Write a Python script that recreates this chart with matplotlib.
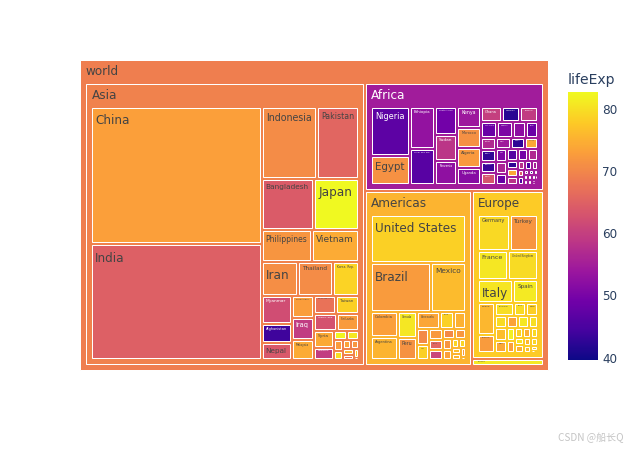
import matplotlib
matplotlib.use('Agg')
import matplotlib.pyplot as plt
from matplotlib.colors import LinearSegmentedColormap, Normalize
from matplotlib.patches import Rectangle
from matplotlib.cm import ScalarMappable

# gapminder 2007: country, population, life expectancy
asia_names = ['Afghanistan', 'Bahrain', 'Bangladesh', 'Cambodia', 'China', 'Hong Kong, China', 'India',
              'Indonesia', 'Iran', 'Iraq', 'Israel', 'Japan', 'Jordan', 'Korea, Dem. Rep.', 'Korea, Rep.',
              'Kuwait', 'Lebanon', 'Malaysia', 'Mongolia', 'Myanmar', 'Nepal', 'Oman', 'Pakistan',
              'Philippines', 'Saudi Arabia', 'Singapore', 'Sri Lanka', 'Syria', 'Taiwan', 'Thailand',
              'Vietnam', 'West Bank and Gaza', 'Yemen, Rep.']
asia_pop = [31889923, 708573, 150448339, 14131858, 1318683096, 6980412, 1110396331, 223547000, 69453570,
            27499638, 6426679, 127467972, 6053193, 23301725, 49044790, 2505559, 3921278, 24821286, 2874127,
            47761980, 28901790, 3204897, 169270617, 91077287, 27601038, 4553009, 20378239, 19314747,
            23174294, 65068149, 85262356, 4018332, 22211743]
asia_life = [43.828, 75.635, 64.062, 59.723, 72.961, 82.208, 64.698, 70.650, 70.964, 59.545, 80.745, 82.603,
             72.535, 67.297, 78.623, 77.588, 71.993, 74.241, 66.803, 62.069, 63.785, 75.640, 65.483, 71.688,
             72.777, 79.972, 72.396, 74.143, 78.400, 70.616, 74.249, 73.422, 62.698]

africa_names = ['Algeria', 'Angola', 'Benin', 'Botswana', 'Burkina Faso', 'Burundi', 'Cameroon',
                'Central African Republic', 'Chad', 'Comoros', 'Congo, Dem. Rep.', 'Congo, Rep.',
                "Cote d'Ivoire", 'Djibouti', 'Egypt', 'Equatorial Guinea', 'Eritrea', 'Ethiopia', 'Gabon',
                'Gambia', 'Ghana', 'Guinea', 'Guinea-Bissau', 'Kenya', 'Lesotho', 'Liberia', 'Libya',
                'Madagascar', 'Malawi', 'Mali', 'Mauritania', 'Mauritius', 'Morocco', 'Mozambique', 'Namibia',
                'Niger', 'Nigeria', 'Reunion', 'Rwanda', 'Sao Tome and Principe', 'Senegal', 'Sierra Leone',
                'Somalia', 'South Africa', 'Sudan', 'Swaziland', 'Tanzania', 'Togo', 'Tunisia', 'Uganda',
                'Zambia', 'Zimbabwe']
africa_pop = [33333216, 12420476, 8078314, 1639131, 14326203, 8390505, 17696293, 4369038, 10238807, 710960,
              64606759, 3800610, 18013409, 496374, 80264543, 551201, 4906585, 76511887, 1454867, 1688359,
              22873338, 9947814, 1472041, 35610177, 2012649, 3193942, 6036914, 19167654, 13327079, 12031795,
              3270065, 1250882, 33757175, 19951656, 2055080, 12894865, 135031164, 798094, 8860588, 199579,
              12267493, 6144562, 9118773, 43997828, 42292929, 1133066, 38139640, 5701579, 10276158, 29170398,
              11746035, 12311143]
africa_life = [72.301, 42.731, 56.728, 50.728, 52.295, 49.580, 50.430, 44.741, 50.651, 65.152, 46.462, 55.322,
               48.328, 54.791, 71.338, 51.579, 58.040, 52.947, 56.735, 59.448, 60.022, 56.007, 46.388, 54.110,
               42.592, 45.678, 73.952, 59.443, 48.303, 54.467, 64.164, 72.801, 71.164, 42.082, 52.906, 56.867,
               46.859, 76.442, 46.242, 65.528, 63.062, 42.568, 48.159, 49.339, 58.556, 39.613, 52.517, 58.420,
               73.923, 51.542, 42.384, 43.487]

americas_names = ['Argentina', 'Bolivia', 'Brazil', 'Canada', 'Chile', 'Colombia', 'Costa Rica', 'Cuba',
                  'Dominican Republic', 'Ecuador', 'El Salvador', 'Guatemala', 'Haiti', 'Honduras', 'Jamaica',
                  'Mexico', 'Nicaragua', 'Panama', 'Paraguay', 'Peru', 'Puerto Rico', 'Trinidad and Tobago',
                  'United States', 'Uruguay', 'Venezuela']
americas_pop = [40301927, 9119152, 190010647, 33390141, 16284741, 44227550, 4133884, 11416987, 9319622,
                13755680, 6939688, 12572928, 8502814, 7483763, 2780132, 108700891, 5675356, 3242173, 6667147,
                28674757, 3942491, 1056608, 301139947, 3447496, 26084662]
americas_life = [75.320, 65.554, 72.390, 80.653, 78.553, 72.889, 78.782, 78.273, 72.235, 74.994, 71.878,
                 70.259, 60.916, 70.198, 72.567, 76.195, 72.899, 75.537, 71.752, 71.421, 78.746, 69.819,
                 78.242, 76.384, 73.747]

europe_names = ['Albania', 'Austria', 'Belgium', 'Bosnia and Herzegovina', 'Bulgaria', 'Croatia',
                'Czech Republic', 'Denmark', 'Finland', 'France', 'Germany', 'Greece', 'Hungary', 'Iceland',
                'Ireland', 'Italy', 'Montenegro', 'Netherlands', 'Norway', 'Poland', 'Portugal', 'Romania',
                'Serbia', 'Slovak Republic', 'Slovenia', 'Spain', 'Sweden', 'Switzerland', 'Turkey',
                'United Kingdom']
europe_pop = [3600523, 8199783, 10392226, 4552198, 7322858, 4493312, 10228744, 5468120, 5238460, 61083916,
              82400996, 10706290, 9956108, 301931, 4109086, 58147733, 684736, 16570613, 4627926, 38518241,
              10642836, 22276056, 10150265, 5447502, 2009245, 40448191, 9031088, 7554661, 71158647, 60776238]
europe_life = [76.423, 79.829, 79.441, 74.852, 73.005, 75.748, 76.486, 78.332, 79.313, 80.657, 79.406, 79.483,
               73.338, 81.757, 78.885, 80.546, 74.543, 79.762, 80.196, 75.563, 78.098, 72.476, 74.002, 74.663,
               77.926, 80.941, 80.884, 81.701, 71.777, 79.425]

oceania_names = ['Australia', 'New Zealand']
oceania_pop = [20434176, 4115771]
oceania_life = [81.235, 80.204]

plasma = ['#0d0887', '#46039f', '#7201a8', '#9c179e', '#bd3786',
          '#d8576b', '#ed7953', '#fb9f3a', '#fdca26', '#f0f921']
cmap = LinearSegmentedColormap.from_list('plotly_plasma', plasma)

PAD_T, PAD_L, PAD_R, PAD_B, PAD_IN = 24, 6, 6, 6, 3
PX = 0.72  # points per pixel at dpi 100


def node(name, value, color, children=None):
    return {'name': name, 'value': value, 'color': color, 'children': children or []}


conts = []
for cname, names, pops, lifes in [('Asia', asia_names, asia_pop, asia_life),
                                  ('Africa', africa_names, africa_pop, africa_life),
                                  ('Americas', americas_names, americas_pop, americas_life),
                                  ('Europe', europe_names, europe_pop, europe_life),
                                  ('Oceania', oceania_names, oceania_pop, oceania_life)]:
    kids = [node(n, p, l) for n, p, l in zip(names, pops, lifes)]
    tot = sum(pops)
    conts.append(node(cname, tot, sum(p * l for p, l in zip(pops, lifes)) / tot, kids))
wtot = sum(c['value'] for c in conts)
world = node('world', wtot, sum(c['value'] * c['color'] for c in conts) / wtot, conts)


def sort_tree(n):
    n['children'].sort(key=lambda c: -c['value'])
    for c in n['children']:
        sort_tree(c)


sort_tree(world)


def squarify(nodes, x0, y0, x1, y1, ratio=1.0):
    # same steps as d3.treemapSquarify
    value = float(sum(n['value'] for n in nodes))
    i0 = i1 = 0
    n = len(nodes)
    while i0 < n:
        dx, dy = max(x1 - x0, 1e-9), max(y1 - y0, 1e-9)
        sum_v = nodes[i1]['value']
        i1 += 1
        min_v = max_v = sum_v
        alpha = max(dy / dx, dx / dy) / (value * ratio)
        beta = sum_v * sum_v * alpha
        min_ratio = max(max_v / beta, beta / min_v)
        while i1 < n:
            v = nodes[i1]['value']
            sum_v += v
            min_v = min(min_v, v)
            max_v = max(max_v, v)
            beta = sum_v * sum_v * alpha
            new_ratio = max(max_v / beta, beta / min_v)
            if new_ratio > min_ratio:
                sum_v -= v
                break
            min_ratio = new_ratio
            i1 += 1
        row = nodes[i0:i1]
        if dx < dy:
            ny = y0 + dy * sum_v / value
            k = (x1 - x0) / sum_v
            xx = x0
            for c in row:
                c['raw'] = (xx, y0, xx + c['value'] * k, ny)
                xx += c['value'] * k
            y0 = ny
        else:
            nx = x0 + dx * sum_v / value
            k = (y1 - y0) / sum_v
            yy = y0
            for c in row:
                c['raw'] = (x0, yy, nx, yy + c['value'] * k)
                yy += c['value'] * k
            x0 = nx
        value -= sum_v
        i0 = i1


def position(n, rect, p):
    x0, y0, x1, y1 = rect[0] + p, rect[1] + p, rect[2] - p, rect[3] - p
    if x1 < x0:
        x0 = x1 = (x0 + x1) / 2
    if y1 < y0:
        y0 = y1 = (y0 + y1) / 2
    n['rect'] = (x0, y0, x1, y1)
    if n['children']:
        q = PAD_IN / 2
        cx0, cy0 = x0 + PAD_L - q, y0 + PAD_T - q
        cx1, cy1 = x1 - (PAD_R - q), y1 - (PAD_B - q)
        if cx1 < cx0:
            cx0 = cx1 = (cx0 + cx1) / 2
        if cy1 < cy0:
            cy0 = cy1 = (cy0 + cy1) / 2
        squarify(n['children'], cx0, cy0, cx1, cy1)
        for c in n['children']:
            position(c, c['raw'], q)


position(world, (80, 60, 548, 370), 0)

all_nodes = []


def walk(n, d):
    all_nodes.append((n, d))
    for c in n['children']:
        walk(c, d + 1)


walk(world, 0)
vals = [n['color'] for n, d in all_nodes]
norm = Normalize(min(vals), max(vals))

fig = plt.figure(figsize=(6.38, 4.5), dpi=100)
ax = fig.add_axes([0, 0, 1, 1])
ax.set_xlim(0, 638)
ax.set_ylim(450, 0)
ax.axis('off')
fig.canvas.draw()
renderer = fig.canvas.get_renderer()

for n, d in all_nodes:
    x0, y0, x1, y1 = n['rect']
    w, h = x1 - x0, y1 - y0
    rgb = cmap(norm(n['color']))
    ax.add_patch(Rectangle((x0, y0), w, h, facecolor=rgb, edgecolor='white', lw=0.72, zorder=d))
    bright = (rgb[0] * 299 + rgb[1] * 587 + rgb[2] * 114) * 255 / 1000
    tcol = 'white' if bright < 128 else '#444444'
    if n['children']:
        lx, ly, aw, ah = 5.5, 2.0, w - 11, min(h, PAD_T) - 2
    else:
        lx, ly, aw, ah = 3.0, 3.0, w - 6, h - 6
    if aw <= 0 or ah <= 0:
        continue
    t = ax.text(x0 + lx, y0 + ly + 0.27 * 12, n['name'], fontsize=12 * PX, color=tcol,
                ha='left', va='top', zorder=d + 0.5)
    bb = t.get_window_extent(renderer)
    s = min(1.0, aw / bb.width, ah / bb.height)
    if s < 0.06:
        t.remove()
        continue
    t.set_fontsize(12 * PX * s)
    t.set_y(y0 + ly * max(s, 0.4) + 0.27 * 12 * s)

# colorbar
cax = fig.add_axes([568 / 638, (450 - 360) / 450, 30 / 638, 267.7 / 450])
sm = ScalarMappable(norm=norm, cmap=cmap)
cb = fig.colorbar(sm, cax=cax, ticks=[40, 50, 60, 70, 80])
cb.outline.set_visible(False)
cax.tick_params(length=0, pad=3, labelsize=12 * PX, labelcolor='#2a3f5f')
fig.text(568 / 638, 1 - 80 / 450, 'lifeExp', fontsize=14 * PX, color='#2a3f5f', va='center', ha='left')

fig.text(558 / 638, 1 - 438 / 450, 'CSDN @船长Q', fontsize=10 * PX, color='#c4c4c4', va='center', ha='left',
         family=['Noto Sans CJK SC', 'DejaVu Sans'])

fig.savefig('out.png', dpi=100)
